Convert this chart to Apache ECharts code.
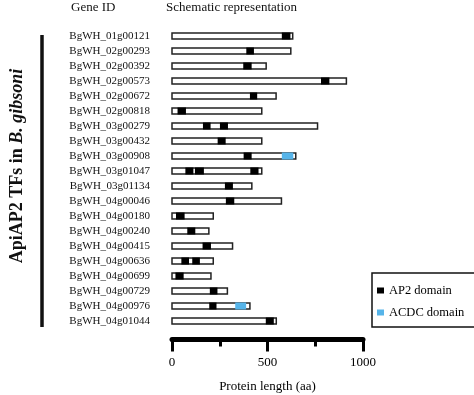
<!DOCTYPE html>
<html>
<head>
<meta charset="utf-8">
<script src="https://cdn.jsdelivr.net/npm/echarts@6/dist/echarts.min.js"></script>
<style>
html,body{margin:0;padding:0;background:#fff;}
#chart{width:474px;height:395px;}
</style>
</head>
<body>
<div id="chart"></div>
<script>
// ---- data ----
const genes = ['BgWH_01g00121','BgWH_02g00293','BgWH_02g00392','BgWH_02g00573','BgWH_02g00672',
  'BgWH_02g00818','BgWH_03g00279','BgWH_03g00432','BgWH_03g00908','BgWH_03g01047',
  'BgWH_03g01134','BgWH_04g00046','BgWH_04g00180','BgWH_04g00240','BgWH_04g00415',
  'BgWH_04g00636','BgWH_04g00699','BgWH_04g00729','BgWH_04g00976','BgWH_04g01044'];
const proteinLengths = [632, 622, 493, 913, 545, 470, 762, 470, 648, 470,
  418, 573, 216, 193, 317, 216, 204, 290, 408, 546];
// [gene index, start, end]
const ap2Domains = [
  [0,575,620],[1,389,429],[2,373,417],[3,780,824],[4,408,446],[5,29,73],
  [6,162,202],[6,251,293],[7,239,281],[8,375,417],[9,70,112],[9,120,167],[9,410,453],
  [10,277,319],[11,282,326],[12,21,66],[13,80,122],[14,160,204],[15,49,89],[15,106,146],
  [16,18,61],[17,198,238],[18,195,233],[19,491,533]
];
const acdcDomains = [[8,575,635],[18,331,388]];
const majorTicks = ['0','500','1000'];

const SERIF = '"Liberation Serif","Times New Roman",serif';
const BLUE = '#56B4E9';

const chart = echarts.init(document.getElementById('chart'));

function barItem(params, api){
  const i = api.value(0), len = api.value(1);
  const p0 = api.coord([0, i]), p1 = api.coord([len, i]);
  const h = 6;
  return {type:'rect', shape:{x:p0[0], y:p0[1]-h/2, width:p1[0]-p0[0], height:h},
    style:{fill:'#fff', stroke:'#222', lineWidth:1.5}};
}
function domainItem(color){
  return function(params, api){
    const i = api.value(0), s = api.value(1), e = api.value(2);
    const p0 = api.coord([s, i]), p1 = api.coord([e, i]);
    const h = 7;
    return {type:'rect', shape:{x:p0[0], y:p0[1]-h/2, width:p1[0]-p0[0], height:h},
      style:{fill:color}};
  };
}

chart.setOption({
  animation:false,
  grid:{left:172, right:111, top:28.5, height:300, outerBoundsMode:'none', containLabel:false},
  xAxis:[{
    type:'value', min:0, max:1000, interval:500, position:'bottom', offset:11,
    axisLine:{show:true, lineStyle:{color:'#000', width:5}},
    axisTick:{show:true, length:12, lineStyle:{color:'#000', width:3}},
    axisLabel:{margin:17, color:'#000', fontFamily:SERIF, fontSize:13,
      formatter:function(v){ return majorTicks.indexOf(String(v))>=0 ? String(v) : ''; }},
    splitLine:{show:false},
    name:'Protein length (aa)', nameLocation:'middle', nameGap:41,
    nameTextStyle:{color:'#000', fontFamily:SERIF, fontSize:13}
  },{
    type:'value', min:0, max:1000, interval:250, position:'bottom', offset:11,
    axisLine:{show:false},
    axisTick:{show:true, length:7, lineStyle:{color:'#000', width:3}},
    axisLabel:{show:false}, splitLine:{show:false}
  }],
  yAxis:{
    type:'category', data:genes, inverse:true,
    axisLine:{show:false}, axisTick:{show:false},
    axisLabel:{margin:22, color:'#111', fontFamily:SERIF, fontSize:11}
  },
  legend:{
    orient:'vertical', left:372, top:279, itemWidth:7, itemHeight:6, itemGap:9,
    textStyle:{fontFamily:SERIF, fontSize:12.5, color:'#000'},
    data:[{name:'AP2 domain', icon:'rect', itemStyle:{color:'#000'}},
          {name:'ACDC domain', icon:'rect', itemStyle:{color:BLUE}}]
  },
  series:[
    {type:'custom', name:'Protein', renderItem:barItem, encode:{x:1, y:0},
      data:proteinLengths.map((v,i)=>[i,v])},
    {type:'custom', name:'AP2 domain', renderItem:domainItem('#000'), encode:{x:[1,2], y:0},
      itemStyle:{color:'#000'}, data:ap2Domains},
    {type:'custom', name:'ACDC domain', renderItem:domainItem(BLUE), encode:{x:[1,2], y:0},
      itemStyle:{color:BLUE}, data:acdcDomains}
  ],
  graphic:[
    {type:'text', left:71, top:1, style:{text:'Gene ID', fontFamily:SERIF, fontSize:13, fill:'#111'}},
    {type:'text', left:166, top:1, style:{text:'Schematic representation', fontFamily:SERIF, fontSize:13, fill:'#111'}},
    {type:'line', shape:{x1:42, y1:35, x2:42, y2:327}, style:{stroke:'#111', lineWidth:3.5}},
    {type:'text', x:17, y:166, rotation:Math.PI/2,
      style:{text:'{a|ApiAP2 TFs in }{b|B. gibsoni}', align:'center', verticalAlign:'middle',
        rich:{a:{fontFamily:SERIF, fontSize:18, fontWeight:'bold', fill:'#111'},
              b:{fontFamily:SERIF, fontSize:18, fontWeight:'bold', fontStyle:'italic', fill:'#111'}}}},
    {type:'rect', shape:{x:372, y:273, width:110, height:54}, style:{fill:'none', stroke:'#111', lineWidth:1.5}}
  ]
});
</script>
</body>
</html>
